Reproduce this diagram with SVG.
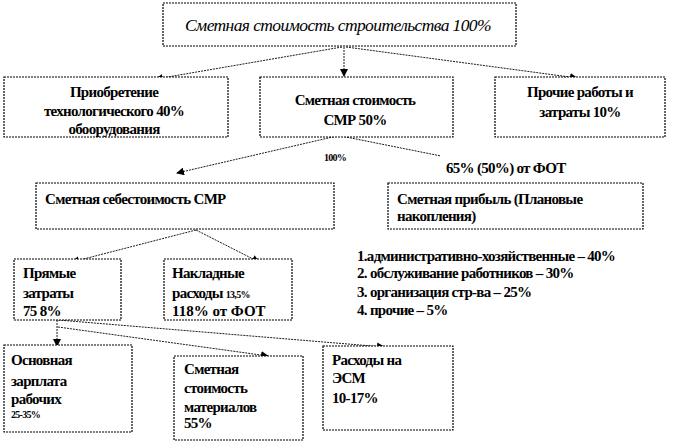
<svg xmlns="http://www.w3.org/2000/svg" width="689" height="443" viewBox="0 0 689 443">
<style>
.b{fill:#fff;stroke:#000;stroke-width:1.2;stroke-dasharray:2 1}
.t{font-family:"Liberation Serif",serif;font-weight:bold;font-size:15px;fill:#000;letter-spacing:-0.7px}
.s{font-size:10px}
.c{text-anchor:middle}
.l{stroke:#000;stroke-width:0.9;stroke-dasharray:2 1;fill:none}
</style>
<defs><marker id="a" markerWidth="8" markerHeight="8" refX="7" refY="4" orient="auto" markerUnits="userSpaceOnUse"><path d="M0,0 L8,4 L0,8 z" fill="#000"/></marker></defs>
<g id="connectors">
<line class="l" x1="342" y1="47" x2="156" y2="79" marker-end="url(#a)"/>
<line class="l" x1="344" y1="47" x2="344" y2="76" marker-end="url(#a)"/>
<line class="l" x1="346" y1="47" x2="577" y2="78" marker-end="url(#a)"/>
<line class="l" x1="337" y1="136" x2="177" y2="173" marker-end="url(#a)"/>
<line class="l" x1="341" y1="136" x2="441" y2="156"/>
<line class="l" x1="196" y1="230" x2="72" y2="262" marker-end="url(#a)"/>
<line class="l" x1="196" y1="230" x2="259" y2="262" marker-end="url(#a)"/>
<line class="l" x1="57" y1="320" x2="57" y2="346" marker-end="url(#a)"/>
<line class="l" x1="58" y1="327" x2="268" y2="356" marker-end="url(#a)"/>
<line class="l" x1="58" y1="320" x2="384" y2="347" marker-end="url(#a)"/>
</g>
<g id="n0"><rect class="b" x="163" y="3" width="353" height="43"/><text class="t c" x="338" y="31" style="font-size:17.5px;font-style:italic;font-weight:normal;letter-spacing:-0.6px">Сметная стоимость строительства 100%</text></g>
<g id="n1"><rect class="b" x="4" y="77" width="224" height="60"/><text class="t c" x="114" y="97">Приобретение</text><text class="t c" x="114" y="116">технологического  40%</text><text class="t c" x="114" y="134">обоорудования</text></g>
<g id="n2"><rect class="b" x="260" y="77" width="193" height="60"/><text class="t c" x="355" y="105">Сметная стоимость</text><text class="t c" x="355" y="125">СМР 50%</text></g>
<g id="n3"><rect class="b" x="495" y="77" width="170" height="60"/><text class="t c" x="580" y="97">Прочие работы и</text><text class="t c" x="580" y="117">затраты 10%</text></g>
<g id="lbl"><text class="t c s" x="335" y="161">100%</text><text class="t" x="446" y="173">65% (50%) от ФОТ</text></g>
<g id="n4"><rect class="b" x="36" y="183" width="298" height="46"/><text class="t" x="45" y="204">Сметная себестоимость СМР</text></g>
<g id="n5"><rect class="b" x="388" y="183" width="255" height="46"/><text class="t" x="397" y="204">Сметная прибыль (Плановые</text><text class="t" x="397" y="221">накопления)</text></g>
<g id="n6"><rect class="b" x="14" y="259" width="107" height="61"/><text class="t" x="23" y="278">Прямые</text><text class="t" x="23" y="298">затраты</text><text class="t" x="23" y="316">75 8%</text></g>
<g id="n7"><rect class="b" x="164" y="259" width="128" height="61"/><text class="t" x="172" y="278">Накладные</text><text class="t" x="172" y="298">расходы <tspan class="s">13,5%</tspan></text><text class="t" x="172" y="316" style="letter-spacing:0">118% от ФОТ</text></g>
<g id="list"><text class="t" x="357" y="261">1.административно-хозяйственные – 40%</text><text class="t" x="357" y="278">2. обслуживание работников – 30%</text><text class="t" x="357" y="297">3. организация стр-ва – 25%</text><text class="t" x="357" y="315">4. прочие – 5%</text></g>
<g id="n8"><rect class="b" x="4" y="345" width="128" height="87"/><text class="t" x="11" y="365">Основная</text><text class="t" x="11" y="386">зарплата</text><text class="t" x="11" y="404">рабочих</text><text class="t s" x="11" y="418">25-35%</text></g>
<g id="n9"><rect class="b" x="174" y="356" width="129" height="84"/><text class="t" x="184" y="374">Сметная</text><text class="t" x="184" y="393">стоимость</text><text class="t" x="184" y="412">материалов</text><text class="t" x="184" y="428">55%</text></g>
<g id="n10"><rect class="b" x="323" y="346" width="130" height="84"/><text class="t" x="332" y="365">Расходы на</text><text class="t" x="332" y="383">ЭСМ</text><text class="t" x="332" y="403">10-17%</text></g>
</svg>
